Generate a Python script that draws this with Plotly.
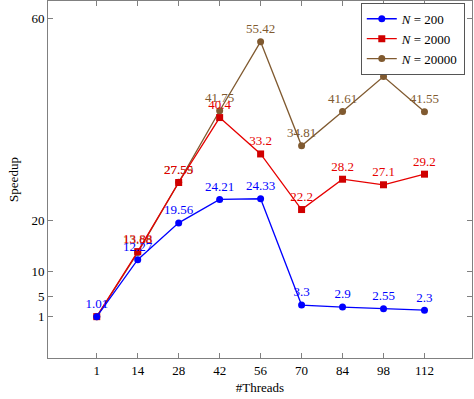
import plotly.graph_objects as go

threads = ["1", "14", "28", "42", "56", "70", "84", "98", "112"]
n200 = [1.01, 12.27, 19.56, 24.21, 24.33, 3.3, 2.9, 2.55, 2.3]
n2000 = [1.01, 13.88, 27.55, 40.4, 33.2, 22.2, 28.2, 27.1, 29.2]
n20000 = [1.01, 13.68, 27.59, 41.75, 55.42, 34.81, 41.61, 48.5, 41.55]
n200_labels = ["1.01", "12.27", "19.56", "24.21", "24.33", "3.3", "2.9", "2.55", "2.3"]
n2000_labels = ["", "13.88", "27.55", "40.4", "33.2", "22.2", "28.2", "27.1", "29.2"]
n20000_labels = ["", "13.68", "27.59", "41.75", "55.42", "34.81", "41.61", "48.5", "41.55"]
y_ticks = [1, 5, 10, 20, 60]

FONT = "Liberation Serif, DejaVu Serif, serif"
BLUE = "#0000ff"
RED = "#e60000"
BROWN = "#805a30"

fig = go.Figure()
fig.add_trace(go.Scatter(
    x=threads, y=n20000, mode="lines+markers+text", name="<i>N</i> = 20000",
    text=n20000_labels, textposition="top center",
    textfont=dict(family=FONT, size=13, color=BROWN),
    line=dict(color=BROWN, width=1.3), marker=dict(symbol="circle", size=7, color=BROWN),
    legendrank=3, cliponaxis=False))
fig.add_trace(go.Scatter(
    x=threads, y=n2000, mode="lines+markers+text", name="<i>N</i> = 2000",
    text=n2000_labels, textposition="top center",
    textfont=dict(family=FONT, size=13, color=RED),
    line=dict(color=RED, width=1.3), marker=dict(symbol="square", size=7, color="#d00000"),
    legendrank=2, cliponaxis=False))
fig.add_trace(go.Scatter(
    x=threads, y=n200, mode="lines+markers+text", name="<i>N</i> = 200",
    text=n200_labels, textposition="top center",
    textfont=dict(family=FONT, size=13, color=BLUE),
    line=dict(color=BLUE, width=1.3), marker=dict(symbol="circle", size=7, color=BLUE),
    legendrank=1, cliponaxis=False))

fig.update_layout(
    width=474, height=399,
    margin=dict(l=48, r=2, t=1, b=41, autoexpand=False),
    plot_bgcolor="white", paper_bgcolor="white",
    font=dict(family=FONT, size=13, color="black"),
    legend=dict(x=0.983, y=0.995, xanchor="right", yanchor="top",
                bgcolor="white", bordercolor="#555555", borderwidth=1,
                font=dict(family=FONT, size=13), tracegroupgap=0,
                itemwidth=30),
    showlegend=True,
)
fig.update_xaxes(
    type="category", range=[-1.19, 9.16], automargin=False,
    showgrid=False, zeroline=False,
    showline=True, linecolor="#808080", linewidth=1, mirror="ticks",
    ticks="inside", ticklen=5, tickcolor="#808080",
    tickfont=dict(family=FONT, size=13),
    title=dict(text="#Threads", font=dict(family=FONT, size=13), standoff=6),
)
fig.update_yaxes(
    range=[-7.17, 63.46], automargin=False,
    tickvals=y_ticks, ticktext=[str(v) for v in y_ticks],
    showgrid=False, zeroline=False,
    showline=True, linecolor="#808080", linewidth=1, mirror="ticks",
    ticks="inside", ticklen=5, tickcolor="#808080",
    tickfont=dict(family=FONT, size=13),
    title=dict(text="Speedup", font=dict(family=FONT, size=13), standoff=9),
)

fig.write_html("out.html", config={"displayModeBar": False},
               post_script="document.body.style.margin='0';")
